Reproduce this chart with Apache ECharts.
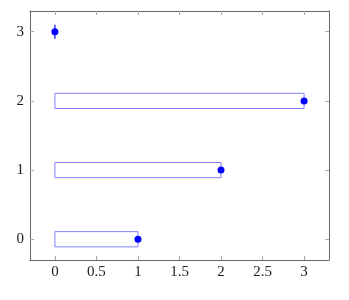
<!DOCTYPE html>
<html><head><meta charset="utf-8">
<script src="https://cdn.jsdelivr.net/npm/echarts@6/dist/echarts.min.js"></script>
<style>html,body{margin:0;padding:0;background:#fff}#c{width:349px;height:300px}</style>
</head><body><div id="c"></div>
<script>
var barY = [0, 1, 2, 3];
var barValues = [1, 2, 3, 0];
var pointX = [1, 2, 3, 0];
var pointY = [0, 1, 2, 3];
var errY = [0, 0, 0, 0.1];
var xTicks = [0, 0.5, 1, 1.5, 2, 2.5, 3];
var yTicks = [0, 1, 2, 3];
var barHalf = 0.11;

var chart = echarts.init(document.getElementById('c'), null, {renderer: 'canvas'});
var font = 'Liberation Serif';
function makeAxis(pos, ticks, showLabel, margin) {
  return {
    type: 'value', position: pos, min: -0.3, max: 3.3,
    axisLine: {show: true, onZero: false, lineStyle: {color: '#666', width: 1}},
    axisTick: {show: true, inside: true, length: 4, customValues: ticks, lineStyle: {color: '#aaa'}},
    splitLine: {show: false},
    axisLabel: {show: showLabel, customValues: ticks, color: '#222', fontFamily: font, fontSize: 15, margin: margin,
      formatter: function (v) { return String(v); }}
  };
}

var barData = barY.map(function (y, i) { return [barValues[i], y]; });
var errData = pointX.map(function (x, i) { return [x, pointY[i], errY[i]]; });

chart.setOption({
  animation: false,
  grid: {left: 30, right: 20, top: 11, bottom: 40},
  xAxis: [makeAxis('bottom', xTicks, true, 5), makeAxis('top', xTicks, false, 5)],
  yAxis: [makeAxis('left', yTicks, true, 6), makeAxis('right', yTicks, false, 6)],
  series: [
    {
      type: 'custom', xAxisIndex: 0, yAxisIndex: 0,
      data: barData,
      renderItem: function (params, api) {
        var v = api.value(0), y = api.value(1);
        if (v === 0) return null;
        var p0 = api.coord([0, y + barHalf]);
        var p1 = api.coord([v, y - barHalf]);
        return {type: 'rect', shape: {x: p0[0], y: p0[1], width: p1[0] - p0[0], height: p1[1] - p0[1]},
          style: {fill: 'none', stroke: '#7f7fff', lineWidth: 1}};
      }
    },
    {
      type: 'custom', xAxisIndex: 0, yAxisIndex: 0,
      data: errData,
      renderItem: function (params, api) {
        var x = api.value(0), y = api.value(1), e = api.value(2);
        if (!e) return null;
        var a = api.coord([x, y - e]), b = api.coord([x, y + e]);
        return {type: 'line', shape: {x1: a[0], y1: a[1], x2: b[0], y2: b[1]},
          style: {stroke: '#0000ff', lineWidth: 1.2}};
      }
    },
    {
      type: 'scatter', xAxisIndex: 0, yAxisIndex: 0,
      data: pointX.map(function (x, i) { return [x, pointY[i]]; }),
      symbol: 'circle', symbolSize: 7,
      itemStyle: {color: '#0000ff', opacity: 1}
    }
  ]
});
</script></body></html>
